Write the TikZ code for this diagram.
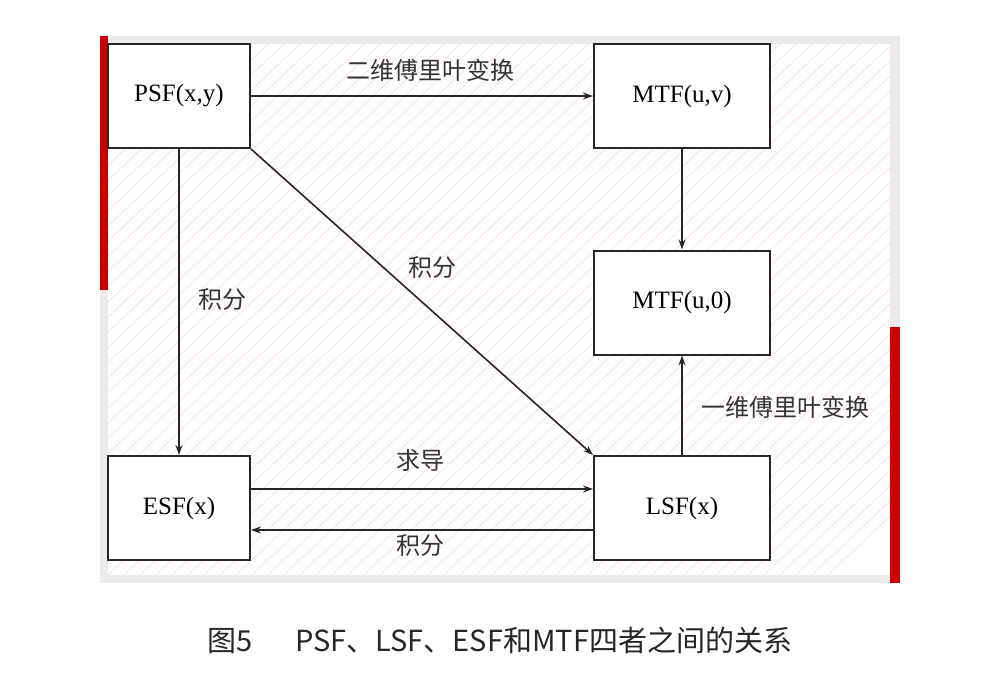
\documentclass[tikz,border=0pt]{standalone}
\usepackage{fontspec}
\setmainfont{Liberation Serif}
\newfontfamily\cjk{Noto Sans CJK SC}
\usetikzlibrary{arrows.meta}
\begin{document}
\begin{tikzpicture}[x=1pt,y=-1pt,
  box/.style={draw=black!85,line width=2pt,minimum width=142pt,minimum height=104pt,inner sep=0,font=\fontsize{25}{27}\selectfont},
  wbox/.style={box,minimum width=176pt},
  arr/.style={draw=black!85,line width=1.6pt,-{Stealth[length=10pt,width=7pt]}},
  lab/.style={font=\cjk\fontsize{24}{26}\selectfont,text=black!80}]
\useasboundingbox (0,0) rectangle (993,681);
\fill[black!8] (100,36) rectangle (900,583);
\fill[white] (108,44) rectangle (890,575);
\begin{scope}
\clip (108,44) rectangle (890,575);
\foreach \i in {0,...,80} {\draw[red!12,line width=0.8pt] (108+\i*16-560,575) -- (108+\i*16,44);}
\end{scope}
\fill[red!80!black] (100,36) rectangle (108,290);
\fill[red!80!black] (890,327) rectangle (900,583);
\node[box,fill=white] (psf) at (179,96) {PSF(x,y)};
\node[wbox,fill=white] (mtf) at (682,96) {MTF(u,v)};
\node[wbox,fill=white] (mtf0) at (682,302.5) {MTF(u,0)};
\node[box,fill=white] (esf) at (179,508) {ESF(x)};
\node[wbox,fill=white] (lsf) at (682,508) {LSF(x)};
\draw[arr] (psf.east) -- (mtf.west);
\draw[arr] (psf.south) -- (esf.north);
\draw[arr] (psf.south east) -- (lsf.north west);
\draw[arr] (mtf.south) -- (mtf0.north);
\draw[arr] (lsf.north) -- (mtf0.south);
\draw[arr] ([yshift=19pt]esf.east) -- ([yshift=19pt]lsf.west);
\draw[arr] ([yshift=-22pt]lsf.west) -- ([yshift=-22pt]esf.east);
\node[lab] (l1) at (430,70) {二维傅里叶变换};
\node[lab] (l2) at (432,268) {积分};
\node[lab] (l3) at (222,300) {积分};
\node[lab] (l4) at (785,407) {一维傅里叶变换};
\node[lab] (l5) at (420,460) {求导};
\node[lab] (l6) at (420,546) {积分};
\node[font=\cjk\fontsize{29}{31}\selectfont,text=black!85] (cap) at (500,640) {图5\quad\ \ PSF、LSF、ESF和MTF四者之间的关系};
\end{tikzpicture}
\end{document}
